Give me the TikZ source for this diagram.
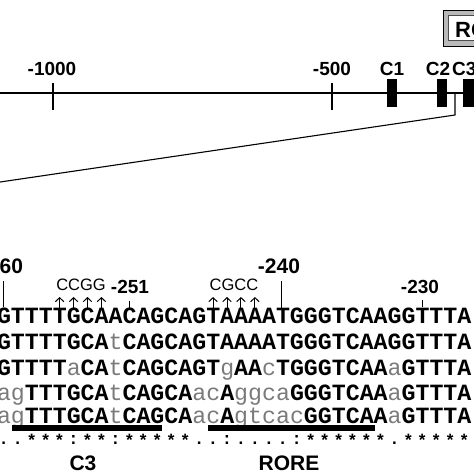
\documentclass[tikz,border=0pt]{standalone}
\usepackage{fontspec}
\setmainfont{Liberation Sans}
\newfontfamily\seqfont{Liberation Mono}
\usetikzlibrary{arrows.meta}
\definecolor{lowgray}{HTML}{7A7A7A}
\newcommand\lw[1]{{\mdseries\color{lowgray}#1}}
\tikzset{
  seqrow/.style={inner sep=0pt, anchor=base west, font=\seqfont\bfseries\fontsize{23.25}{24}\selectfont},
  biglab/.style={inner sep=0pt, anchor=base, font=\bfseries\fontsize{19}{20}\selectfont},
  poslab/.style={inner sep=0pt, anchor=base, font=\bfseries\fontsize{21}{22}\selectfont},
  smlab/.style={inner sep=0pt, anchor=base, font=\bfseries\fontsize{19}{20}\selectfont},
  mutlab/.style={inner sep=0pt, anchor=base, font=\fontsize{16.5}{17}\selectfont},
  cons/.style={inner sep=0pt, anchor=base, font=\seqfont\bfseries\fontsize{17}{18}\selectfont},
  tickline/.style={line width=1.3pt},
  mutarrow/.style={line width=1pt, -{Straight Barb[length=4pt,width=8.5pt,line width=1pt]}},
  elem/.style={fill=black, draw=none},
  bar/.style={line width=6pt}
}
\begin{document}
\begin{tikzpicture}[x=1pt,y=-1pt]
\useasboundingbox (0,0) rectangle (474,474);
% ---------- top map ----------
\coordinate (L0) at (-5,93);
\coordinate (L1) at (480,93);
\draw[line width=1.2pt] (L0) -- (L1);
\draw[tickline] (53,83) -- (53,110);
\draw[tickline] (332,83) -- (332,110);
\node[biglab] (k1000) at (52,75) {-1000};
\node[biglab] (k500) at (332,75) {-500};
\fill[elem] (387,79) rectangle (397,107);
\fill[elem] (437,79) rectangle (447,107);
\fill[elem] (463,79) rectangle (482,107);
\node[biglab] (c1) at (392,75) {C1};
\node[biglab] (c2) at (438,75) {C2};
\node[biglab, anchor=base west] (c3) at (452,75) {C3};
% reporter box
\draw[fill=gray!55, line width=0.9pt] (443,10) rectangle (530,46);
\draw[fill=white, draw=gray!60!black, line width=0.4pt] (448.5,15.5) rectangle (524,40.5);
\node[inner sep=0pt, anchor=base west, font=\bfseries\fontsize{22}{22}\selectfont] (ror) at (455,37) {RORE};
% zoom lines
\coordinate (z0) at (455,93);
\coordinate (z1) at (455,115);
\coordinate (z2) at (-10,183.5);
\draw[line width=1.1pt] (z0) -- (z1) -- (z2);
% ---------- sequence ----------
\node[poslab] (p260) at (2,273) {-260};
\node[poslab] (p240) at (279,273) {-240};
\node[smlab] (p251) at (130,293) {-251};
\node[smlab] (p230) at (420,293) {-230};
\draw[tickline] (3.8,281) -- (3.8,307);
\draw[tickline] (281.3,281) -- (281.3,308);
\draw[tickline] (129.4,301) -- (129.4,308);
\draw[tickline] (422.3,300) -- (422.3,307);
\node[mutlab] (mccgg) at (81,290) {CCGG};
\node[mutlab] (mcgcc) at (234,290) {CGCC};
\foreach \c in {4,5,6,7,15,16,17,18}
  \draw[mutarrow] (3.8+13.95*\c,309.5) -- (3.8+13.95*\c,297);
\node[seqrow] (r1) at (-3.175,323) {GTTTTGCAACAGCAGTAAAATGGGTCAAGGTTTA};
\node[seqrow] (r2) at (-3.175,349.5) {GTTTTGCA\lw{t}CAGCAGTAAAATGGGTCAAGGTTTA};
\node[seqrow] (r3) at (-3.175,375.5) {GTTTT\lw{a}CA\lw{t}CAGCAGT\lw{g}AA\lw{c}TGGGTCAA\lw{a}GTTTA};
\node[seqrow] (r4) at (-3.175,400) {\lw{ag}TTTGCA\lw{t}CAGCA\lw{ac}A\lw{ggca}GGGTCAA\lw{a}GTTTA};
\node[seqrow] (r5) at (-3.175,423) {\lw{ag}TTTGCA\lw{t}CAGCA\lw{ac}A\lw{gtcac}GGTCAA\lw{a}GTTTA};
\draw[bar] (12,428) -- (162,428);
\draw[bar] (208,428) -- (375,428);
\foreach \c in {0,1,14,15,17,18,19,20,28}
  \node[cons] at (3.8+13.95*\c,444) {.};
\foreach \c in {5,8,16,21}
  \node[cons] at (3.8+13.95*\c,444.5) {:};
\foreach \c in {2,3,4,6,7,9,10,11,12,13,22,23,24,25,26,27,29,30,31,32,33}
  \node[cons] at (3.8+13.95*\c,446) {*};
\node[poslab] (lc3) at (83,470) {C3};
\node[poslab] (lrore) at (289,470) {RORE};
\end{tikzpicture}
\end{document}
